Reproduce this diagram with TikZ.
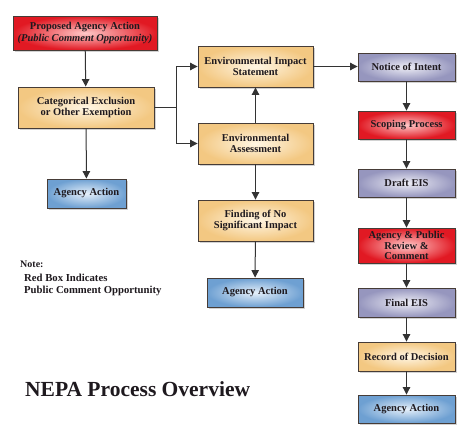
\documentclass[tikz,border=0pt]{standalone}
\usepackage{fontspec}
\setmainfont{Liberation Serif}
\usetikzlibrary{arrows.meta,shadows}
\definecolor{redout}{RGB}{225,25,35}
\definecolor{redin}{RGB}{255,200,200}
\definecolor{begout}{RGB}{243,200,130}
\definecolor{begin}{RGB}{255,246,228}
\definecolor{bluout}{RGB}{110,160,210}
\definecolor{bluin}{RGB}{230,240,250}
\definecolor{lavout}{RGB}{150,150,190}
\definecolor{lavin}{RGB}{238,238,246}
\definecolor{edge}{RGB}{70,60,55}
\definecolor{txt}{RGB}{30,25,30}
\tikzset{
  box/.style={draw=edge, line width=0.9pt, align=center, inner sep=1pt,
    font=\fontsize{10.5}{11.5}\selectfont\bfseries, text=txt,
    drop shadow={shadow xshift=1.5pt, shadow yshift=-1.5pt, opacity=0.35}},
  redbox/.style={box, inner color=redin, outer color=redout},
  begbox/.style={box, inner color=begin, outer color=begout},
  blubox/.style={box, inner color=bluin, outer color=bluout},
  lavbox/.style={box, inner color=lavin, outer color=lavout},
  arr/.style={draw=black!80, line width=1pt, -{Triangle[length=7.5pt,width=7.5pt]}},
  ln/.style={draw=black!80, line width=1pt},
}
\begin{document}
\begin{tikzpicture}[x=1pt,y=-1pt]
\useasboundingbox[fill=white] (0,0) rectangle (474,439);
\node[redbox, minimum width=144pt, minimum height=34pt] (prop) at (85,33) {Proposed Agency Action\\\itshape (Public Comment Opportunity)};
\node[begbox, minimum width=136pt, minimum height=41pt] (catex) at (86,107.5) {Categorical Exclusion\\or Other Exemption};
\node[blubox, minimum width=79pt, minimum height=29pt] (aa1) at (86.5,193.5) {Agency Action};
\node[begbox, minimum width=115pt, minimum height=41pt] (eis) at (255.5,66.5) {Environmental Impact\\Statement};
\node[begbox, minimum width=115pt, minimum height=41pt] (ea) at (255.5,143.5) {Environmental\\Assessment};
\node[begbox, minimum width=115pt, minimum height=41pt] (fonsi) at (255.5,220.5) {Finding of No\\Significant Impact};
\node[blubox, minimum width=96pt, minimum height=29pt] (aa2) at (255,292.5) {Agency Action};
\node[lavbox, minimum width=97pt, minimum height=28pt] (noi) at (406.5,67) {Notice of Intent};
\node[redbox, minimum width=97pt, minimum height=28pt] (scope) at (406.5,125) {Scoping Process};
\node[lavbox, minimum width=97pt, minimum height=28pt] (draft) at (406.5,183) {Draft EIS};
\node[redbox, minimum width=97pt, minimum height=35pt, inner sep=0pt, font=\fontsize{10.5}{10.5}\selectfont\bfseries] (review) at (406.5,245.5) {Agency \& Public\\Review \&\\Comment};
\node[lavbox, minimum width=97pt, minimum height=29pt] (final) at (406.5,302.5) {Final EIS};
\node[begbox, minimum width=97pt, minimum height=29pt] (rod) at (406.5,356.5) {Record of Decision};
\node[blubox, minimum width=97pt, minimum height=28pt] (aa3) at (406.5,409) {Agency Action};
\coordinate (j) at (176,107.5);
\draw[arr] (prop) -- (catex);
\draw[arr] (catex) -- (aa1);
\draw[ln] (catex.east) -- (j);
\draw[arr] (j) |- (eis.west);
\draw[arr] (j) |- (ea.west);
\draw[arr] (ea) -- (eis);
\draw[arr] (ea) -- (fonsi);
\draw[arr] (fonsi) -- (aa2);
\draw[arr] (eis.east) -- (eis.east -| noi.west);
\draw[arr] (noi) -- (scope);
\draw[arr] (scope) -- (draft);
\draw[arr] (draft) -- (review);
\draw[arr] (review) -- (final);
\draw[arr] (final) -- (rod);
\draw[arr] (rod) -- (aa3);
\node[anchor=west, font=\fontsize{10}{11}\selectfont\bfseries, text=txt, inner sep=0pt] (note) at (20,264) {Note:};
\node[anchor=north west, align=left, font=\fontsize{10.7}{11.5}\selectfont\bfseries, text=txt, inner sep=0pt] (legend) at (24,274) {Red Box Indicates\\Public Comment Opportunity};
\node[anchor=west, font=\fontsize{21.5}{24}\selectfont\bfseries, text=txt, inner sep=0pt] (title) at (25,389) {NEPA Process Overview};
\end{tikzpicture}
\end{document}
